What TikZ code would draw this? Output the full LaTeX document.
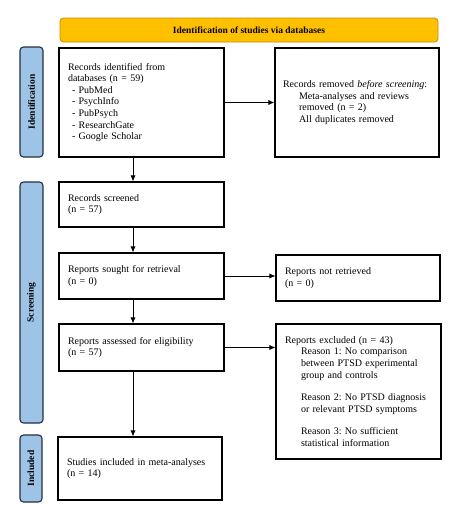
\documentclass[tikz,border=0pt]{standalone}
\usepackage{fontspec}
\setmainfont{Liberation Serif}
\frenchspacing
\usetikzlibrary{arrows.meta}
\definecolor{gold}{HTML}{FFC000}
\definecolor{goldline}{HTML}{BF9000}
\definecolor{sideblue}{HTML}{9DC3E6}
\definecolor{sideline}{HTML}{263040}
\tikzset{
  flowbox/.style={draw=black, line width=1.1pt, fill=white, inner xsep=0pt, inner ysep=0pt,
    align=left, font=\fontsize{10}{11.6}\selectfont},
  sidelab/.style={draw=sideline, line width=1.1pt, fill=sideblue, rounded corners=3.5pt,
    inner sep=0pt, font=\fontsize{9.5}{11}\selectfont\bfseries},
  banner/.style={draw=goldline, line width=0.8pt, fill=gold, rounded corners=3.5pt,
    inner sep=0pt, font=\fontsize{9.5}{11}\selectfont\bfseries},
  flowarrow/.style={draw=black, line width=0.7pt, -{Latex[length=6pt,width=5pt]}}
}
\begin{document}
\begin{tikzpicture}[x=1pt,y=-1pt]
\useasboundingbox[fill=white] (0,0) rectangle (474,523);

% banner
\node[banner, minimum width=378pt, minimum height=24pt] (ban) at (249,30) {Identification of studies via databases};

% side labels
\node[sidelab, minimum width=23pt, minimum height=110pt] (idlab) at (31.5,102) {};
\node[rotate=90, font=\fontsize{9.5}{11}\selectfont\bfseries] (idtxt) at (idlab.center) {Identification};
\node[sidelab, minimum width=23pt, minimum height=241pt] (scrlab) at (31.5,302.5) {};
\node[rotate=90, font=\fontsize{9.5}{11}\selectfont\bfseries] (scrtxt) at (scrlab.center) {Screening};
\node[sidelab, minimum width=22pt, minimum height=67pt] (inclab) at (31,468.5) {};
\node[rotate=90, font=\fontsize{9.5}{11}\selectfont\bfseries] (inctxt) at (inclab.center) {Included};

% main boxes
\node[flowbox, minimum width=165pt, minimum height=109pt, text width=147pt] (rec) at (141.5,102.5)
 {Records identified from\\databases (n = 59)\\\hspace*{4pt}- PubMed\\\hspace*{4pt}- PsychInfo\\\hspace*{4pt}- PubPsych\\\hspace*{4pt}- ResearchGate\\\hspace*{4pt}- Google Scholar};
\node[flowbox, minimum width=164pt, minimum height=109pt, text width=148pt] (rem) at (357,102.5)
 {Records removed \textit{before screening}:\\\hspace*{16pt}Meta-analyses and reviews\\\hspace*{16pt}removed (n = 2)\\\hspace*{16pt}All duplicates removed};
\node[flowbox, minimum width=165pt, minimum height=45pt, text width=147pt] (scr) at (141.5,204.5)
 {Records screened\\(n = 57)};
\node[flowbox, minimum width=165pt, minimum height=46pt, text width=147pt] (sought) at (141.5,276)
 {Reports sought for retrieval\\(n = 0)};
\node[flowbox, minimum width=164pt, minimum height=46pt, text width=146pt] (notret) at (358,278)
 {Reports not retrieved\\(n = 0)};
\node[flowbox, minimum width=165pt, minimum height=47pt, text width=147pt] (assess) at (141.5,347.5)
 {Reports assessed for eligibility\\(n = 57)};
\node[flowbox, minimum width=165pt, minimum height=135pt, text width=147pt] (excl) at (358.5,391.5)
 {Reports excluded (n = 43)\\\hspace*{16pt}Reason 1: No comparison\\\hspace*{16pt}between PTSD experimental\\\hspace*{16pt}group and controls\\[11pt]\hspace*{16pt}Reason 2: No PTSD diagnosis\\\hspace*{16pt}or relevant PTSD symptoms\\[11pt]\hspace*{16pt}Reason 3: No sufficient\\\hspace*{16pt}statistical information};
\node[flowbox, minimum width=164pt, minimum height=63pt, text width=146pt] (incl) at (140,468.5)
 {Studies included in meta-analyses\\(n = 14)};

% connectors
\coordinate (ax) at (133,0);
\draw[flowarrow] (rec.east) -- (rec.east -| rem.west);
\draw[flowarrow] (rec.south -| ax) -- (scr.north -| ax);
\draw[flowarrow] (scr.south -| ax) -- (sought.north -| ax);
\draw[flowarrow] (sought.east) -- (sought.east -| notret.west);
\draw[flowarrow] (sought.south -| ax) -- (assess.north -| ax);
\draw[flowarrow] (assess.east) -- (assess.east -| excl.west);
\draw[flowarrow] (assess.south -| ax) -- (incl.north -| ax);
\end{tikzpicture}
\end{document}
